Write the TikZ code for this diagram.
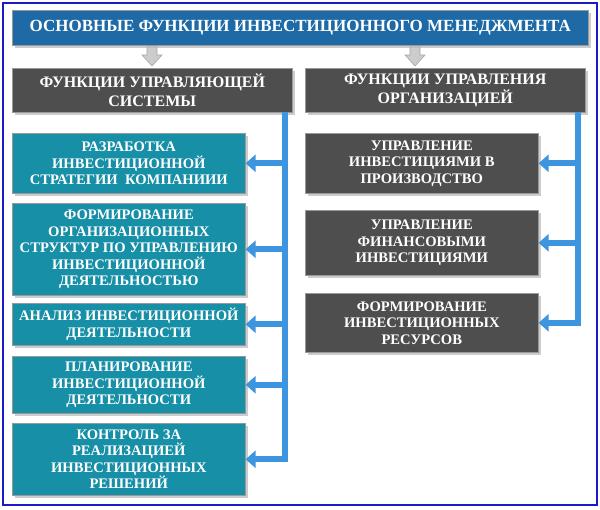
\documentclass[tikz,border=0pt]{standalone}
\usepackage{fontspec}
\setmainfont{Liberation Serif}
\usetikzlibrary{arrows.meta,shadows}
\definecolor{tblue}{HTML}{1E6AA6}
\definecolor{dgray}{HTML}{4E4E4E}
\definecolor{teal1}{HTML}{178FA6}
\definecolor{cblue}{HTML}{3D95E0}
\definecolor{frame}{HTML}{1A1AC8}
\tikzset{
 box/.style={draw=black!40,line width=0.6pt,drop shadow={opacity=0.4},text=white,font=\bfseries\fontsize{14.6}{16.5}\selectfont,align=center,inner sep=0pt,anchor=north west},
 conn/.style={draw=cblue,line width=6pt,-{Triangle[width=17pt,length=10pt]}},
 down/.style={draw=black!35,fill=black!20,line width=0.6pt}
}
\begin{document}
\begin{tikzpicture}[x=1pt,y=-1pt]
\useasboundingbox (0,0) rectangle (600,509);
\draw[frame,line width=2.5pt,fill=white] (3,3) rectangle (597,505);
\node[box,fill=tblue,minimum width=576pt,minimum height=35pt,font=\bfseries\fontsize{17}{18}\selectfont] (t) at (12,10) {ОСНОВНЫЕ ФУНКЦИИ ИНВЕСТИЦИОННОГО МЕНЕДЖМЕНТА};
\node[box,fill=dgray,minimum width=280pt,minimum height=44pt,font=\bfseries\fontsize{16}{19}\selectfont] (hl) at (12,68) {ФУНКЦИИ УПРАВЛЯЮЩЕЙ\\СИСТЕМЫ};
\node[box,fill=dgray,minimum width=280pt,minimum height=44pt,font=\bfseries\fontsize{16}{19}\selectfont] (hr) at (305,68) {ФУНКЦИИ УПРАВЛЕНИЯ\\ОРГАНИЗАЦИЕЙ};
\foreach \x in {152,415}{
 \draw[down] (\x-5,47) -- (\x+5,47) -- (\x+5,55) -- (\x+10,55) -- (\x,66) -- (\x-10,55) -- (\x-5,55) -- cycle;}
\node[box,fill=teal1,minimum width=233pt,minimum height=60pt] (l1) at (12,133) {РАЗРАБОТКА\\ИНВЕСТИЦИОННОЙ\\СТРАТЕГИИ~~КОМПАНИИИ};
\node[box,fill=teal1,minimum width=233pt,minimum height=92pt] (l2) at (12,203) {ФОРМИРОВАНИЕ\\ОРГАНИЗАЦИОННЫХ\\СТРУКТУР ПО УПРАВЛЕНИЮ\\ИНВЕСТИЦИОННОЙ\\ДЕЯТЕЛЬНОСТЬЮ};
\node[box,fill=teal1,minimum width=233pt,minimum height=42pt] (l3) at (12,303) {АНАЛИЗ ИНВЕСТИЦИОННОЙ\\ДЕЯТЕЛЬНОСТИ};
\node[box,fill=teal1,minimum width=233pt,minimum height=57pt] (l4) at (12,356) {ПЛАНИРОВАНИЕ\\ИНВЕСТИЦИОННОЙ\\ДЕЯТЕЛЬНОСТИ};
\node[box,fill=teal1,minimum width=233pt,minimum height=72pt] (l5) at (12,423) {КОНТРОЛЬ ЗА\\РЕАЛИЗАЦИЕЙ\\ИНВЕСТИЦИОННЫХ\\РЕШЕНИЙ};
\node[box,fill=dgray,minimum width=233pt,minimum height=60pt] (r1) at (305,133) {УПРАВЛЕНИЕ\\ИНВЕСТИЦИЯМИ В\\ПРОИЗВОДСТВО};
\node[box,fill=dgray,minimum width=233pt,minimum height=65pt] (r2) at (305,210) {УПРАВЛЕНИЕ\\ФИНАНСОВЫМИ\\ИНВЕСТИЦИЯМИ};
\node[box,fill=dgray,minimum width=233pt,minimum height=59pt] (r3) at (305,293) {ФОРМИРОВАНИЕ\\ИНВЕСТИЦИОННЫХ\\РЕСУРСОВ};
\coordinate (cl) at (285,112);
\coordinate (cr) at (578,112);
\foreach \b in {l1,l2,l3,l4,l5}{\draw[conn] (cl) |- (\b.east);}
\foreach \b in {r1,r2,r3}{\draw[conn] (cr) |- (\b.east);}
\end{tikzpicture}
\end{document}
